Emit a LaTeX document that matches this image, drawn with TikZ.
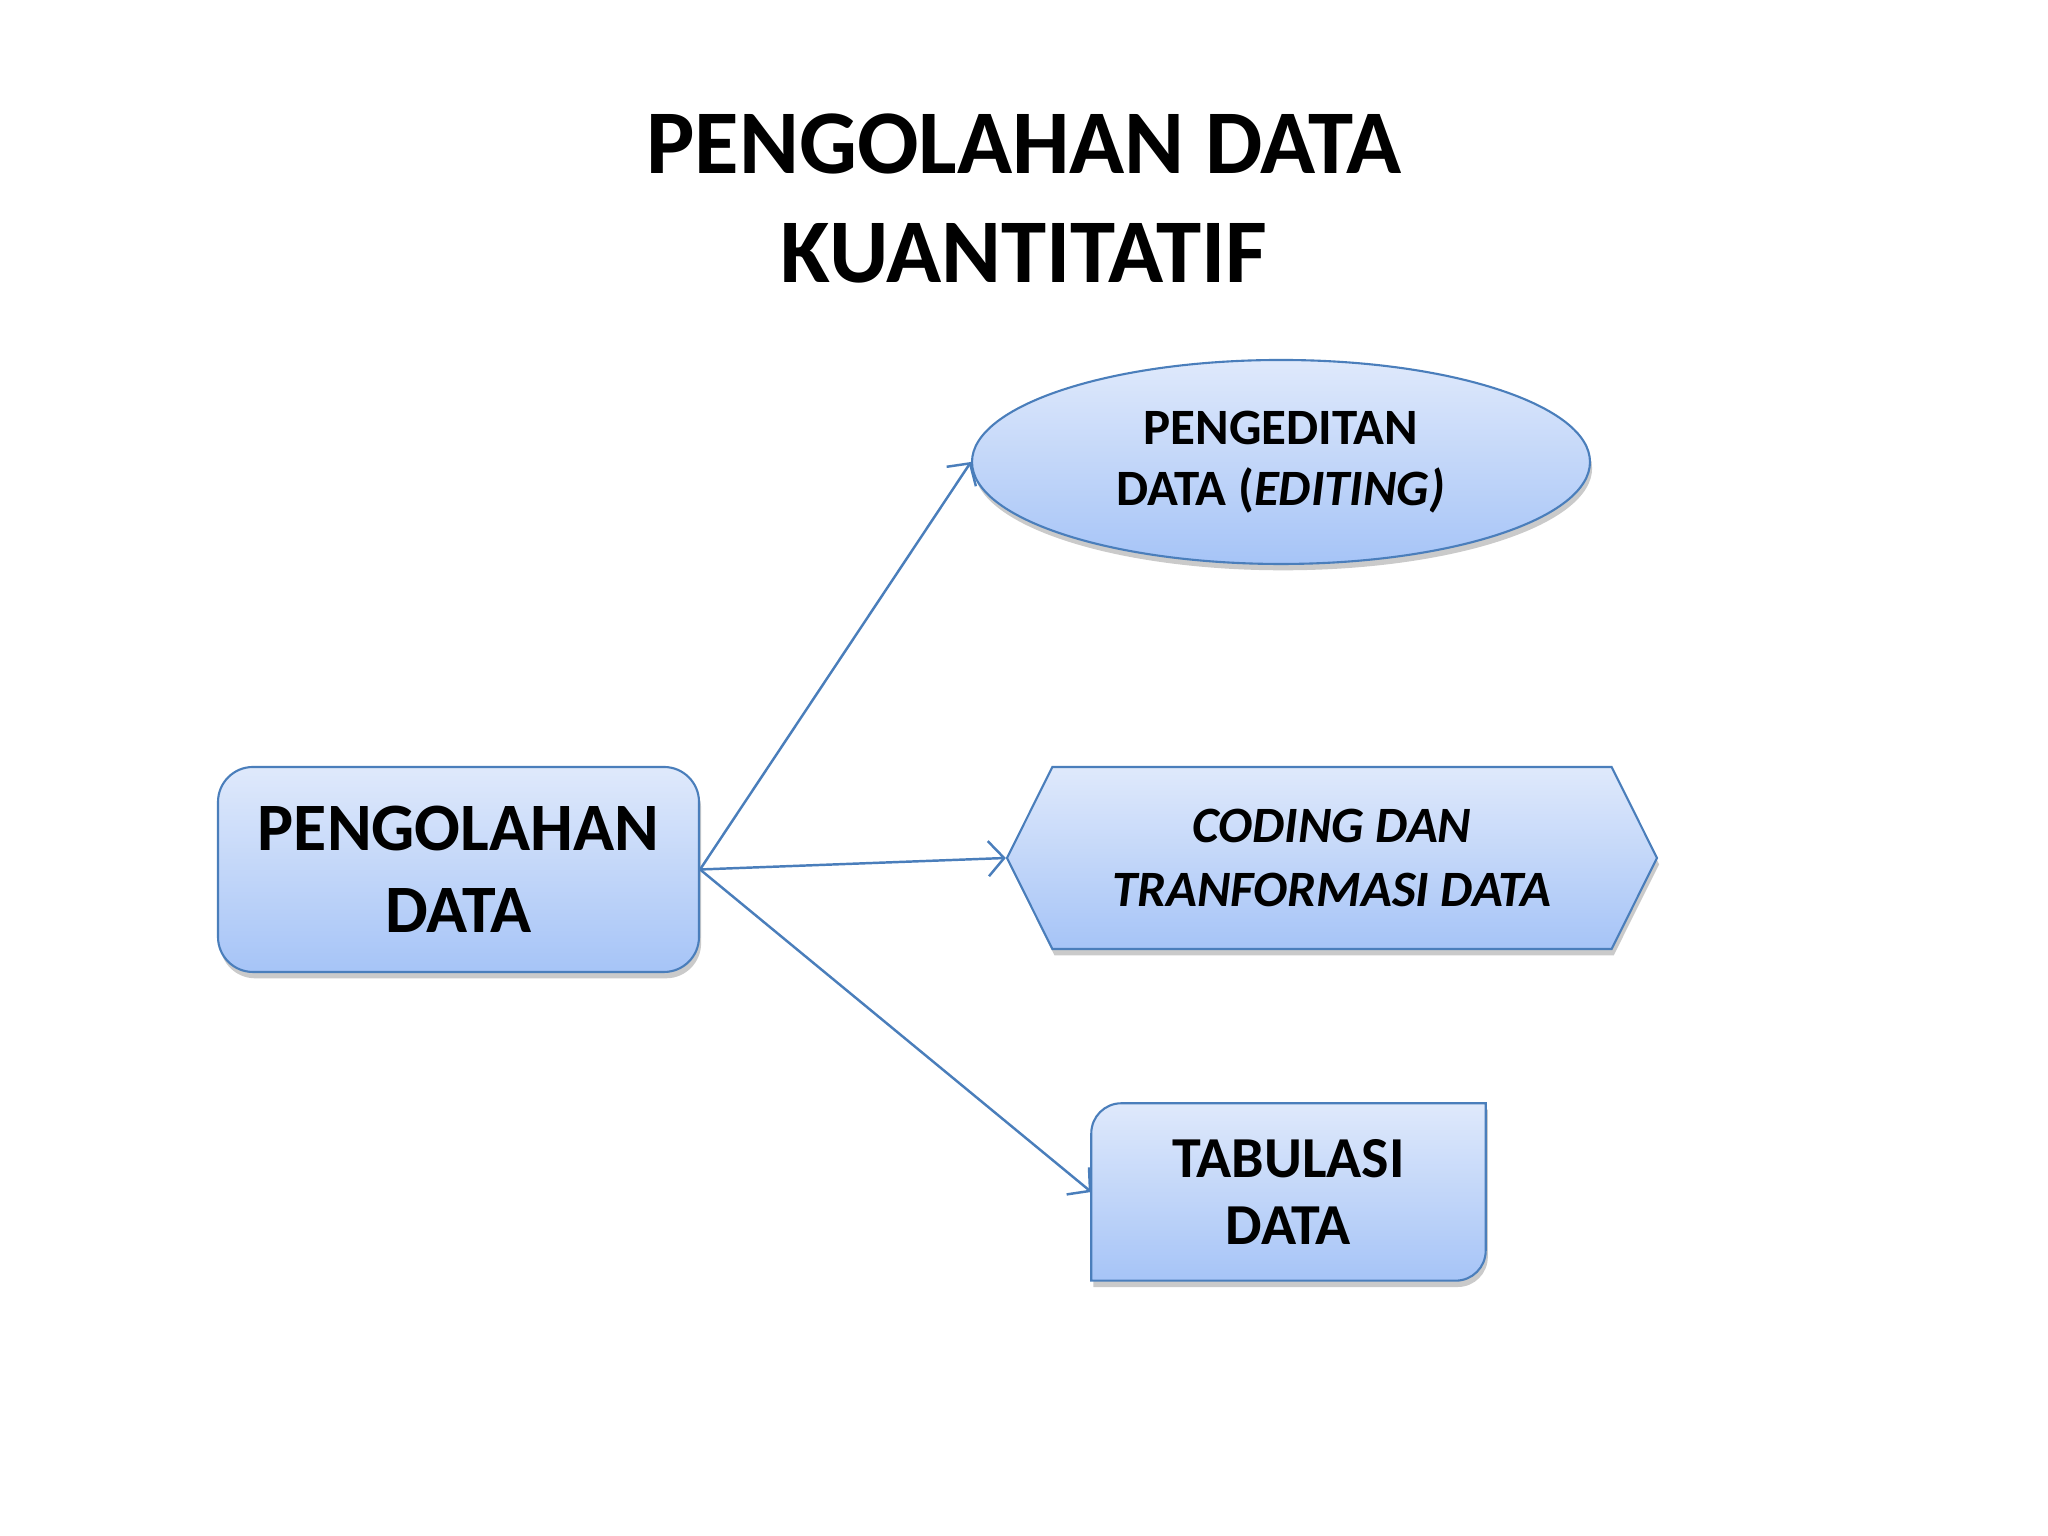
\documentclass[tikz,border=0pt]{standalone}
\usepackage{fontspec}
\setmainfont{Carlito}
\usetikzlibrary{shapes.geometric,shapes.symbols,shadows,backgrounds,arrows.meta}
\definecolor{rand}{HTML}{4A7EBB}
\definecolor{atas}{HTML}{DFE9FB}
\definecolor{bawah}{HTML}{A6C4F7}
\tikzset{
  kotak/.style={draw=rand,line width=0.6pt,top color=atas,bottom color=bawah,
    drop shadow={shadow xshift=0.6pt,shadow yshift=-1.8pt,opacity=0.35,fill=black!60},
    align=center,inner sep=0pt},
  panah/.style={draw=rand,line width=0.7pt,-{Straight Barb[length=4.5pt,width=10pt]}}
}

\begin{document}
\begin{tikzpicture}
  \useasboundingbox (0,0) rectangle (20.48,15.36);
  \node[align=center,font=\bfseries\fontsize{25.9}{31}\selectfont] (judul) at (10.24,13.375) {PENGOLAHAN DATA\\KUANTITATIF};
  \node[kotak,rounded corners=0.35cm,minimum width=4.81cm,minimum height=2.05cm,font=\bfseries\fontsize{19.3}{23.3}\selectfont] (olah) at (4.585,6.665) {PENGOLAHAN\\DATA};
  \node[kotak,ellipse,minimum width=6.18cm,minimum height=2.04cm,font=\bfseries\fontsize{14.5}{17.4}\selectfont] (edit) at (12.81,10.74) {PENGEDITAN\\DATA (\textit{EDITING)}};
  \node[kotak,signal,signal to=east and west,signal pointer angle=127,minimum width=6.5cm,minimum height=1.82cm,font=\bfseries\itshape\fontsize{14.5}{18}\selectfont] (kode) at (13.32,6.78) {CODING DAN\\TRANFORMASI DATA};
  \node[align=center,minimum width=3.93cm,minimum height=1.76cm,inner sep=0pt,font=\bfseries\fontsize{16.5}{19.3}\selectfont] (tabel) at (12.885,3.44) {TABULASI\\DATA};
  \begin{scope}[on background layer]
    \path[kotak] (tabel.south west) -- ([yshift=-0.3cm]tabel.north west) arc (180:90:0.3cm) -- (tabel.north east) -- ([yshift=0.3cm]tabel.south east) arc (0:-90:0.3cm) -- cycle;
  \end{scope}
  \draw[panah] (olah.east) -- (edit.west);
  \draw[panah] (olah.east) -- (kode.west);
  \draw[panah] (olah.east) -- (tabel.west);
\end{tikzpicture}
\end{document}
